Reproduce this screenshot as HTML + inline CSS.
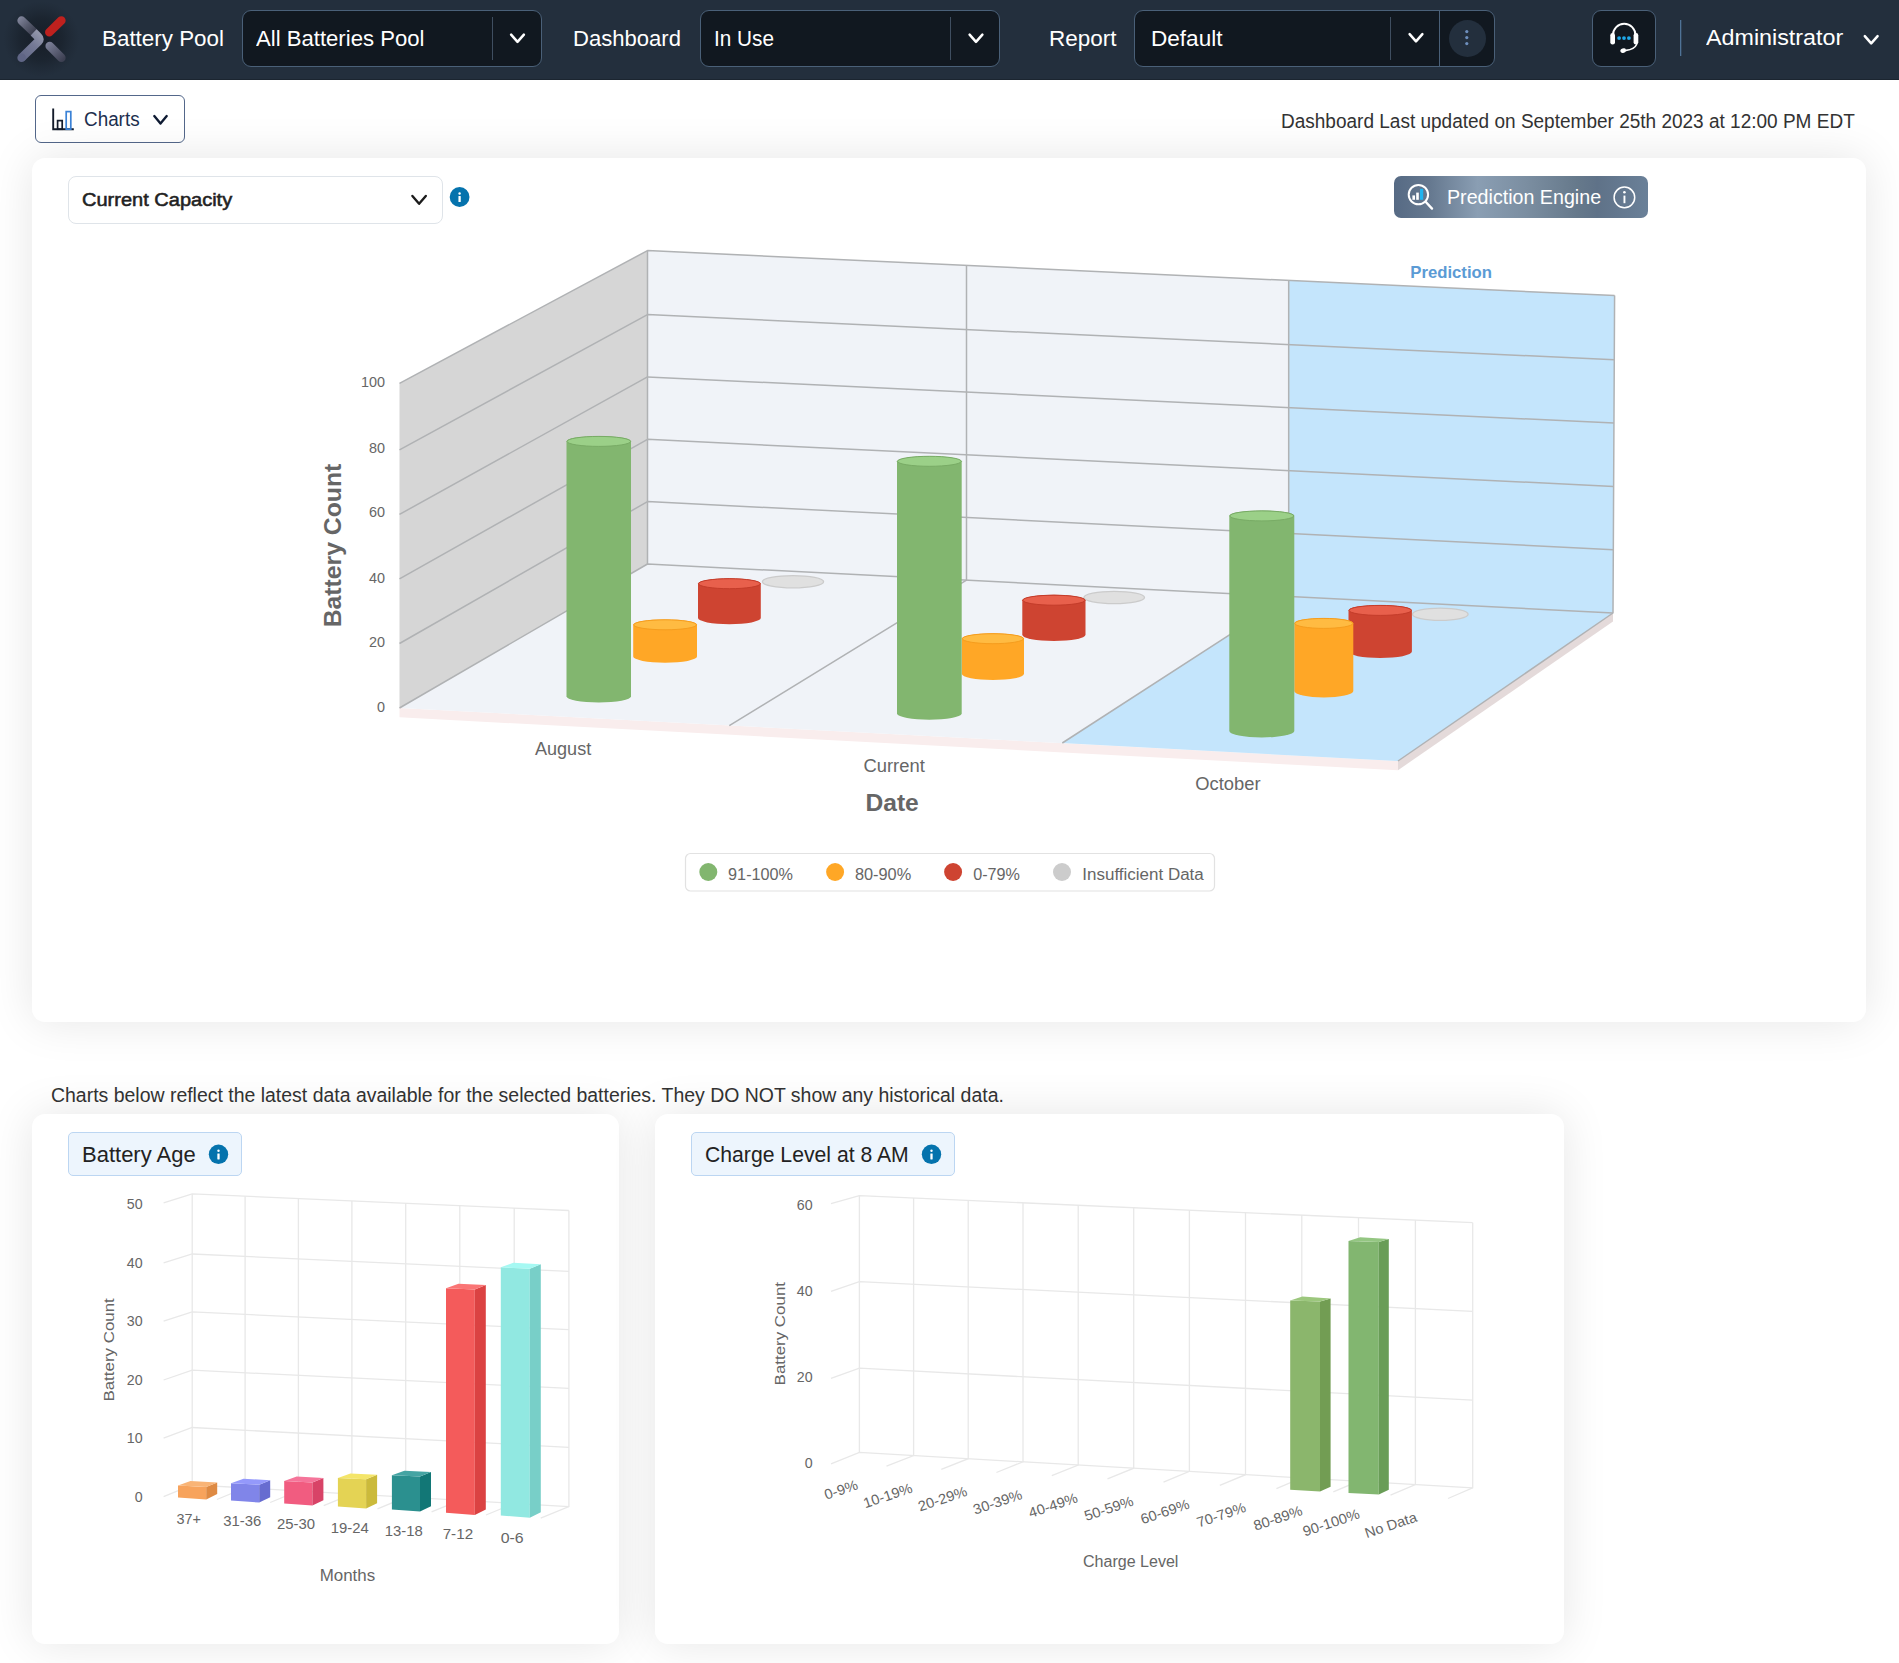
<!DOCTYPE html>
<html lang="en">
<head>
<meta charset="utf-8">
<title>Battery Dashboard</title>
<style>
*{box-sizing:border-box}
html,body{margin:0;padding:0}
body{width:1899px;height:1663px;position:relative;overflow:hidden;background:#fff;font-family:"Liberation Sans",sans-serif;color:#333}
.t{position:absolute;white-space:nowrap;line-height:1em;transform-origin:0 0;display:block}
.sb{-webkit-text-stroke:.55px #222}
.abs{position:absolute}
header{position:absolute;left:0;top:0;width:1899px;height:80px;background:#232f3d;border-bottom:1px solid #1b2530}
.dd{position:absolute;top:10px;height:57px;background:#111820;border:1px solid #4a6078;border-radius:9px}
.vd{position:absolute;top:6px;width:1px;height:43px;background:#3f4e60}
.card{position:absolute;background:#fff;border-radius:13px;box-shadow:0 0 46px rgba(0,0,0,.1)}
.badge{position:absolute;background:#edf5fd;border:1px solid #bcd6f2;border-radius:5px}
svg{position:absolute;left:0;top:0;overflow:visible}
svg text{font-family:"Liberation Sans",sans-serif}
</style>
</head>
<body>

<header>
<svg width="90" height="80" viewBox="0 0 90 80">
<defs>
<linearGradient id="lg0" gradientUnits="userSpaceOnUse" x1="19" y1="18" x2="38" y2="36"><stop offset="0" stop-color="#80849a"/><stop offset=".45" stop-color="#565a6c"/><stop offset=".8" stop-color="#3c3f50"/><stop offset="1" stop-color="#3a3d4e"/></linearGradient>
<linearGradient id="lg1" gradientUnits="userSpaceOnUse" x1="19" y1="60" x2="42" y2="34"><stop offset="0" stop-color="#5f6585"/><stop offset=".6" stop-color="#747995"/><stop offset="1" stop-color="#9599ad"/></linearGradient>
<linearGradient id="lg2" gradientUnits="userSpaceOnUse" x1="47" y1="43" x2="63" y2="60"><stop offset="0" stop-color="#7d8199"/><stop offset="1" stop-color="#3d4052"/></linearGradient>
<radialGradient id="lgs" cx=".5" cy=".5" r=".5"><stop offset="0" stop-color="#161c26" stop-opacity=".95"/><stop offset=".55" stop-color="#18202a" stop-opacity=".7"/><stop offset="1" stop-color="#1b242f" stop-opacity="0"/></radialGradient>
</defs>
<circle cx="41.5" cy="39" r="38" fill="url(#lgs)"/>
<path d="M21.6 20.6 L36.6 34.8" fill="none" stroke="url(#lg0)" stroke-width="8.5" stroke-linecap="round"/>
<path d="M21.6 57.7 L38.4 41.4 Q40.6 39.2 38.4 37.1 L33.6 32.4" fill="none" stroke="url(#lg1)" stroke-width="8.5" stroke-linecap="butt" stroke-linejoin="round"/>
<circle cx="21.6" cy="57.7" r="4.25" fill="#5f6585"/>
<path d="M49.7 45.9 L61.4 57.7" fill="none" stroke="url(#lg2)" stroke-width="8.5" stroke-linecap="round"/>
<path d="M49.3 32.3 L61.4 20.4" fill="none" stroke="#bf211e" stroke-width="8.5" stroke-linecap="round"/>
</svg>
<span class="t " style="left:102.0px;top:28.4px;font-size:22.2px;color:#fff;transform:scaleX(1.0089)">Battery Pool</span>
<div class="dd" style="left:242px;width:300px"><div class="vd" style="left:249px"></div></div>
<span class="t " style="left:255.5px;top:28.4px;font-size:22.2px;color:#fff;transform:scaleX(0.9968)">All Batteries Pool</span>
<svg width="1899" height="1663" style="pointer-events:none"><path d="M511.1 34.6 L517.5 41.8 L523.9 34.6" fill="none" stroke="#fff" stroke-width="2.5" stroke-linecap="round" stroke-linejoin="round"/></svg>
<span class="t " style="left:572.5px;top:28.4px;font-size:22.2px;color:#fff;transform:scaleX(0.9945)">Dashboard</span>
<div class="dd" style="left:700px;width:300px"><div class="vd" style="left:249px"></div></div>
<span class="t " style="left:713.5px;top:28.4px;font-size:22.2px;color:#fff;transform:scaleX(0.9352)">In Use</span>
<svg width="1899" height="1663" style="pointer-events:none"><path d="M969.6 34.6 L976.0 41.8 L982.4 34.6" fill="none" stroke="#fff" stroke-width="2.5" stroke-linecap="round" stroke-linejoin="round"/></svg>
<span class="t " style="left:1048.5px;top:28.4px;font-size:22.2px;color:#fff;transform:scaleX(1.0131)">Report</span>
<div class="dd" style="left:1134px;width:361px"><div class="vd" style="left:255px"></div><div class="abs" style="left:304px;top:0;width:1px;height:55px;background:#4a6078"></div><div class="abs" style="left:314px;top:9px;width:37px;height:37px;border-radius:50%;background:#232f3d"></div></div>
<span class="t " style="left:1151.0px;top:27.6px;font-size:22.2px;color:#fff;transform:scaleX(1.0166)">Default</span>
<svg width="1899" height="1663" style="pointer-events:none"><path d="M1409.6 34.2 L1416.0 41.4 L1422.4 34.2" fill="none" stroke="#fff" stroke-width="2.5" stroke-linecap="round" stroke-linejoin="round"/></svg>
<svg width="1899" height="80"><g fill="#6e8fbd"><circle cx="1466.8" cy="31.6" r="1.6"/><circle cx="1466.8" cy="37.6" r="1.6"/><circle cx="1466.8" cy="43.6" r="1.6"/></g></svg>
<div class="dd" style="left:1592px;width:64px"></div>
<svg width="1899" height="80">
<g fill="none" stroke="#fff" stroke-linecap="round">
<path d="M1612.9 36 V35.4 A11.3 11.6 0 0 1 1635.5 35.4 V36" stroke-width="1.9"/>
<path d="M1636.6 44.5 Q1634.5 49.3 1626 50.4" stroke-width="1.6"/>
</g>
<rect x="1610.3" y="33" width="4.7" height="11.6" rx="2.3" fill="#fff"/>
<rect x="1633.6" y="33" width="4.7" height="11.6" rx="2.3" fill="#fff"/>
<ellipse cx="1623.2" cy="50.6" rx="2.9" ry="2.2" fill="#fff" transform="rotate(-18 1623.2 50.6)"/>
<g fill="#1fa9ea"><circle cx="1619.1" cy="38.1" r="1.9"/><circle cx="1624" cy="38.1" r="1.9"/><circle cx="1628.9" cy="38.1" r="1.9"/></g>
<rect x="1680" y="20" width="1.3" height="36" fill="#4f7397"/>
</svg>
<span class="t " style="left:1705.7px;top:27.0px;font-size:22.2px;color:#fff;transform:scaleX(1.0500)">Administrator</span>
<svg width="1899" height="1663" style="pointer-events:none"><path d="M1864.8 36.2 L1871.2 43.4 L1877.6 36.2" fill="none" stroke="#fff" stroke-width="2.5" stroke-linecap="round" stroke-linejoin="round"/></svg>
</header>
<div class="abs" style="left:35px;top:95px;width:150px;height:48px;border:1px solid #53678a;border-radius:6px;background:#fff"></div>
<svg width="1899" height="160">
<path d="M53.2 108.6 V129.2 H73.8" fill="none" stroke="#141c2b" stroke-width="1.9"/>
<rect x="57.6" y="120.6" width="4.6" height="8.6" fill="none" stroke="#141c2b" stroke-width="1.7"/>
<rect x="66.2" y="111.6" width="4.6" height="17.6" fill="none" stroke="#3b82d6" stroke-width="1.7"/>
</svg>
<span class="t " style="left:83.7px;top:110.0px;font-size:19.6px;color:#1d2f4f;transform:scaleX(0.9632)">Charts</span>
<svg width="1899" height="1663" style="pointer-events:none"><path d="M154.3 116.1 L160.5 123.5 L166.7 116.1" fill="none" stroke="#0f1b33" stroke-width="2.4" stroke-linecap="round" stroke-linejoin="round"/></svg>
<span class="t " style="left:1281.0px;top:111.6px;font-size:19.4px;color:#333;transform:scaleX(0.9802)">Dashboard Last updated on September 25th 2023 at 12:00 PM EDT</span>
<div class="card" style="left:32px;top:158px;width:1834px;height:864px"></div>
<div class="abs" style="left:68px;top:176px;width:375px;height:48px;border:1px solid #dfe4e9;border-radius:8px;background:#fff"></div>
<span class="t sb" style="left:82.0px;top:190.5px;font-size:18.8px;color:#222;transform:scaleX(1.0656)">Current Capacity</span>
<svg width="1899" height="1663" style="pointer-events:none"><path d="M412.4 196.0 L419.1 203.8 L425.8 196.0" fill="none" stroke="#1c1c1c" stroke-width="2.4" stroke-linecap="round" stroke-linejoin="round"/></svg>
<svg width="1899" height="1663"><circle cx="459.6" cy="197" r="9.9" fill="#0573ad"/><rect x="458.45" y="196.1" width="2.3" height="6.0" rx=".4" fill="#fff"/><circle cx="459.6" cy="193.5" r="1.2" fill="#fff"/></svg>
<div class="abs" style="left:1394px;top:176px;width:254px;height:42px;border-radius:7px;background:linear-gradient(90deg,#566a84 0%,#65788f 14%,#8a9eb3 33%,#7b8ea1 52%,#66798b 72%,#5f7288 80%,#6a8098 100%)"></div>
<svg width="1899" height="260">
<g fill="none" stroke="#fff" stroke-linecap="round">
<circle cx="1418.4" cy="194.6" r="9.7" stroke-width="2"/>
<path d="M1425.6 201.8 L1432 208.6" stroke-width="2.4"/>
<circle cx="1624.4" cy="197.4" r="10.3" stroke-width="1.5"/>
</g>
<rect x="1412.4" y="195.4" width="2.6" height="4.4" fill="#fff"/>
<rect x="1416.2" y="192.6" width="2.6" height="7.2" fill="#fff"/>
<rect x="1420" y="188.8" width="3.2" height="11" fill="#1fb4f0"/>
<rect x="1623.5" y="195.6" width="1.9" height="7.6" fill="#fff"/>
<circle cx="1624.4" cy="192.2" r="1.3" fill="#fff"/>
</svg>
<span class="t " style="left:1446.7px;top:188.0px;font-size:19.6px;color:#fff;transform:scaleX(1.0031)">Prediction Engine</span>
<svg width="1899" height="1663"><polygon points="399.5,708.0 1398.0,761.0 1398.0,770.2 399.5,717.3" fill="#f9eded"/>
<polygon points="1613.0,613.0 1613.0,621.6 1398.0,770.2 1398.0,761.0" fill="#e4dada"/>
<polygon points="647.5,564.0 1613.0,613.0 1398.0,761.0 399.5,708.0" fill="#f0f3f8"/>
<polygon points="1288.7,596.5 1613.0,613.0 1398.0,761.0 1062.3,743.0" fill="#c4e5fc"/>
<polygon points="647.5,250.6 1614.6,295.6 1613.0,613.0 647.5,564.0" fill="#f0f3f8"/>
<polygon points="1288.7,280.4 1614.6,295.6 1613.0,613.0 1288.7,596.5" fill="#c4e5fc"/>
<polygon points="399.5,383.3 647.5,250.6 647.5,564.0 399.5,708.0" fill="#d6d6d6"/>
<g fill="none" stroke="#b0b2b4" stroke-width="1.5" stroke-linejoin="round">
<polyline points="399.5,383.3 647.5,250.6 1614.6,295.6"/>
<polyline points="399.5,449.8 647.5,314.6 1614.3,359.8"/>
<polyline points="399.5,514.4 647.5,376.9 1614.0,423.1"/>
<polyline points="399.5,578.9 647.5,439.3 1613.6,486.4"/>
<polyline points="399.5,643.5 647.5,501.6 1613.3,549.7"/>
<polyline points="399.5,708.0 647.5,564.0 1613.0,613.0"/>
<polyline points="647.5,250.6 647.5,564.0"/>
<polyline points="1614.6,295.6 1613.0,613.0 1398.0,761.0"/>
<polyline points="966.5,265.4 966.5,580.2 729.3,725.6"/>
<polyline points="1288.7,280.4 1288.7,596.5 1062.3,743.0"/>
</g>
<ellipse cx="793" cy="581.7" rx="30.6" ry="6.1" fill="#e0e0e0" stroke="#cbcbcb" stroke-width="1.3"/>
<path d="M698.0 583.7 A31.4 5.4 0 0 1 760.8 583.7 L760.8 617.9 A31.4 6.4 0 0 1 698.0 617.9 Z" fill="#ce4431"/>
<ellipse cx="729.4" cy="583.7" rx="30.9" ry="5.0" fill="#e8604c" stroke="#c43c2a" stroke-width="1"/>
<path d="M633.2 624.8 A31.9 5.4 0 0 1 697.0 624.8 L697.0 656.4 A31.9 6.4 0 0 1 633.2 656.4 Z" fill="#ffa726"/>
<ellipse cx="665.1" cy="624.8" rx="31.4" ry="5.0" fill="#ffbb42" stroke="#f59d1e" stroke-width="1"/>
<path d="M566.5 441.4 A32.2 5.4 0 0 1 631.0 441.4 L631.0 696.2 A32.2 6.4 0 0 1 566.5 696.2 Z" fill="#82b66f"/>
<ellipse cx="598.8" cy="441.4" rx="31.8" ry="5.0" fill="#9bd088" stroke="#78ab65" stroke-width="1"/>
<ellipse cx="1114.2" cy="597.5" rx="30.3" ry="6.1" fill="#e0e0e0" stroke="#cbcbcb" stroke-width="1.3"/>
<path d="M1022.3 600.2 A31.6 5.4 0 0 1 1085.5 600.2 L1085.5 634.7 A31.6 6.4 0 0 1 1022.3 634.7 Z" fill="#ce4431"/>
<ellipse cx="1053.9" cy="600.2" rx="31.1" ry="5.0" fill="#e8604c" stroke="#c43c2a" stroke-width="1"/>
<path d="M961.8 638.7 A31.1 5.4 0 0 1 1024.0 638.7 L1024.0 673.7 A31.1 6.4 0 0 1 961.8 673.7 Z" fill="#ffa726"/>
<ellipse cx="992.9" cy="638.7" rx="30.6" ry="5.0" fill="#ffbb42" stroke="#f59d1e" stroke-width="1"/>
<path d="M897.0 461.3 A32.4 5.4 0 0 1 961.7 461.3 L961.7 713.7 A32.4 6.4 0 0 1 897.0 713.7 Z" fill="#82b66f"/>
<ellipse cx="929.4" cy="461.3" rx="31.9" ry="5.0" fill="#9bd088" stroke="#78ab65" stroke-width="1"/>
<ellipse cx="1440.3" cy="614.3" rx="27.8" ry="6.1" fill="#e0e0e0" stroke="#cbcbcb" stroke-width="1.3"/>
<path d="M1348.5 610.4 A31.7 5.4 0 0 1 1411.9 610.4 L1411.9 651.6 A31.7 6.4 0 0 1 1348.5 651.6 Z" fill="#ce4431"/>
<ellipse cx="1380.2" cy="610.4" rx="31.2" ry="5.0" fill="#e8604c" stroke="#c43c2a" stroke-width="1"/>
<path d="M1294.3 623.4 A29.5 5.4 0 0 1 1353.3 623.4 L1353.3 691.0 A29.5 6.4 0 0 1 1294.3 691.0 Z" fill="#ffa726"/>
<ellipse cx="1323.8" cy="623.4" rx="29.0" ry="5.0" fill="#ffbb42" stroke="#f59d1e" stroke-width="1"/>
<path d="M1229.3 515.9 A32.5 5.4 0 0 1 1294.3 515.9 L1294.3 731.0 A32.5 6.4 0 0 1 1229.3 731.0 Z" fill="#82b66f"/>
<ellipse cx="1261.8" cy="515.9" rx="32.0" ry="5.0" fill="#9bd088" stroke="#78ab65" stroke-width="1"/>
<text x="385.0" y="387.3" font-size="14.2" fill="#666" text-anchor="end" textLength="24.0" lengthAdjust="spacingAndGlyphs">100</text>
<text x="385.0" y="452.5" font-size="14.2" fill="#666" text-anchor="end" textLength="16.0" lengthAdjust="spacingAndGlyphs">80</text>
<text x="385.0" y="517.1" font-size="14.2" fill="#666" text-anchor="end" textLength="16.0" lengthAdjust="spacingAndGlyphs">60</text>
<text x="385.0" y="582.8" font-size="14.2" fill="#666" text-anchor="end" textLength="16.0" lengthAdjust="spacingAndGlyphs">40</text>
<text x="385.0" y="646.9" font-size="14.2" fill="#666" text-anchor="end" textLength="16.0" lengthAdjust="spacingAndGlyphs">20</text>
<text x="385.0" y="711.9" font-size="14.2" fill="#666" text-anchor="end" textLength="8.0" lengthAdjust="spacingAndGlyphs">0</text>
<text x="535.0" y="754.8" font-size="17.6" fill="#666" textLength="56.2" lengthAdjust="spacingAndGlyphs">August</text>
<text x="863.5" y="772.0" font-size="17.6" fill="#666" textLength="61.3" lengthAdjust="spacingAndGlyphs">Current</text>
<text x="1195.3" y="789.6" font-size="17.6" fill="#666" textLength="65.3" lengthAdjust="spacingAndGlyphs">October</text>
<text x="865.5" y="810.7" font-size="24.2" fill="#666" textLength="53.3" lengthAdjust="spacingAndGlyphs" font-weight="700">Date</text>
<text x="341.4" y="627.3" font-size="24.2" fill="#666" textLength="163.6" lengthAdjust="spacingAndGlyphs" font-weight="700" transform="rotate(-90 341.4 627.3)">Battery Count</text>
<text x="1410.3" y="277.9" font-size="16.4" fill="#5b9bd5" textLength="81.7" lengthAdjust="spacingAndGlyphs" font-weight="700">Prediction</text>
<rect x="685.5" y="853.5" width="529" height="37.5" rx="5" fill="#fff" stroke="#e2e2e2" stroke-width="1.2"/>
<circle cx="708.3" cy="872" r="9" fill="#82b66f"/>
<circle cx="835.1" cy="872" r="9" fill="#ffa726"/>
<circle cx="953.1" cy="872" r="9" fill="#ce4431"/>
<circle cx="1062" cy="872" r="9" fill="#cccccc"/>
<text x="728.1" y="880.2" font-size="15.8" fill="#666" textLength="64.9" lengthAdjust="spacingAndGlyphs">91-100%</text>
<text x="854.9" y="880.2" font-size="15.8" fill="#666" textLength="56.3" lengthAdjust="spacingAndGlyphs">80-90%</text>
<text x="973.2" y="880.2" font-size="15.8" fill="#666" textLength="46.8" lengthAdjust="spacingAndGlyphs">0-79%</text>
<text x="1082.3" y="880.2" font-size="15.8" fill="#666" textLength="121.5" lengthAdjust="spacingAndGlyphs">Insufficient Data</text></svg>
<span class="t " style="left:50.6px;top:1085.9px;font-size:19.6px;color:#333;transform:scaleX(0.9927)">Charts below reflect the latest data available for the selected batteries. They DO NOT show any historical data.</span>
<div class="card" style="left:32px;top:1114px;width:587px;height:530px"></div>
<div class="card" style="left:655px;top:1114px;width:909px;height:530px"></div>
<div class="badge" style="left:68px;top:1132px;width:174px;height:44px"></div>
<div class="badge" style="left:691px;top:1132px;width:264px;height:44px"></div>
<span class="t " style="left:81.6px;top:1143.6px;font-size:22.2px;color:#222;transform:scaleX(0.9916)">Battery Age</span>
<span class="t " style="left:704.6px;top:1143.6px;font-size:22.2px;color:#222;transform:scaleX(0.9547)">Charge Level at 8 AM</span>
<svg width="1899" height="1663"><circle cx="218.5" cy="1154.3" r="9.7" fill="#0573ad"/><rect x="217.35" y="1153.4" width="2.3" height="6.0" rx=".4" fill="#fff"/><circle cx="218.5" cy="1150.8" r="1.2" fill="#fff"/></svg>
<svg width="1899" height="1663"><circle cx="931.5" cy="1154.3" r="9.7" fill="#0573ad"/><rect x="930.35" y="1153.4" width="2.3" height="6.0" rx=".4" fill="#fff"/><circle cx="931.5" cy="1150.8" r="1.2" fill="#fff"/></svg>
<svg width="1899" height="1663"><g fill="none" stroke="#e8e8e8" stroke-width="1.3">
<polyline points="163.6,1202.9 192.2,1193.9 568.9,1210.5"/>
<polyline points="163.6,1262.8 192.2,1254.0 568.9,1271.4"/>
<polyline points="163.6,1321.1 192.2,1311.9 568.9,1329.7"/>
<polyline points="163.6,1380.0 192.2,1370.2 568.9,1388.4"/>
<polyline points="163.6,1438.1 192.2,1427.5 568.9,1447.3"/>
<polyline points="163.6,1496.6 192.2,1484.8 568.9,1506.6"/>
<polyline points="192.2,1193.9 192.2,1484.8"/>
<polyline points="245.1,1196.2 245.1,1487.9 216.9,1499.5"/>
<polyline points="298.4,1198.6 298.4,1490.9 270.2,1502.5"/>
<polyline points="351.9,1200.9 351.9,1494.0 323.7,1505.6"/>
<polyline points="405.7,1203.3 405.7,1497.2 377.5,1508.8"/>
<polyline points="459.8,1205.7 459.8,1500.3 431.6,1511.9"/>
<polyline points="514.2,1208.1 514.2,1503.4 486.0,1515.0"/>
<polyline points="568.9,1210.5 568.9,1506.6 540.7,1518.2"/>
</g>
<polygon points="178.0,1485.6 206.2,1487.0 206.2,1499.4 178.0,1497.4" fill="#f7a35c"/>
<polygon points="206.2,1487.0 217.2,1482.5 217.2,1494.0 206.2,1499.4" fill="#de8a43"/>
<polygon points="178.0,1485.6 190.5,1481.1 217.2,1482.5 206.2,1487.0" fill="#f9b476"/>
<polygon points="231.0,1483.3 259.2,1484.7 259.2,1502.6 231.0,1500.6" fill="#8085e9"/>
<polygon points="259.2,1484.7 270.2,1480.2 270.2,1497.2 259.2,1502.6" fill="#676cd0"/>
<polygon points="231.0,1483.3 243.5,1478.8 270.2,1480.2 259.2,1484.7" fill="#9499fb"/>
<polygon points="284.2,1481.1 312.4,1482.5 312.4,1505.6 284.2,1503.6" fill="#f15c80"/>
<polygon points="312.4,1482.5 323.4,1478.0 323.4,1500.2 312.4,1505.6" fill="#d84367"/>
<polygon points="284.2,1481.1 296.7,1476.6 323.4,1478.0 312.4,1482.5" fill="#f5759a"/>
<polygon points="337.9,1477.9 366.1,1479.3 366.1,1508.6 337.9,1506.6" fill="#e4d354"/>
<polygon points="366.1,1479.3 377.1,1474.8 377.1,1503.2 366.1,1508.6" fill="#cbba3b"/>
<polygon points="337.9,1477.9 350.4,1473.4 377.1,1474.8 366.1,1479.3" fill="#f4e569"/>
<polygon points="391.9,1475.2 420.0,1476.6 420.0,1511.6 391.9,1509.6" fill="#2b908f"/>
<polygon points="420.0,1476.6 431.0,1472.1 431.0,1506.2 420.0,1511.6" fill="#127776"/>
<polygon points="391.9,1475.2 404.4,1470.7 431.0,1472.1 420.0,1476.6" fill="#45a4a3"/>
<polygon points="446.0,1288.2 474.8,1289.6 474.8,1514.9 446.0,1512.8" fill="#f45b5b"/>
<polygon points="474.8,1289.6 485.8,1285.1 485.8,1509.5 474.8,1514.9" fill="#db4242"/>
<polygon points="446.0,1288.2 458.5,1283.7 485.8,1285.1 474.8,1289.6" fill="#fa7575"/>
<polygon points="500.8,1267.3 529.8,1268.7 529.8,1517.7 500.8,1515.6" fill="#91e8e1"/>
<polygon points="529.8,1268.7 540.8,1264.2 540.8,1512.3 529.8,1517.7" fill="#78cfc8"/>
<polygon points="500.8,1267.3 513.3,1262.8 540.8,1264.2 529.8,1268.7" fill="#a6f9f3"/>
<text x="142.6" y="1209.3" font-size="14.2" fill="#666" text-anchor="end" textLength="15.8" lengthAdjust="spacingAndGlyphs">50</text>
<text x="142.6" y="1267.7" font-size="14.2" fill="#666" text-anchor="end" textLength="15.8" lengthAdjust="spacingAndGlyphs">40</text>
<text x="142.6" y="1326.1" font-size="14.2" fill="#666" text-anchor="end" textLength="15.8" lengthAdjust="spacingAndGlyphs">30</text>
<text x="142.6" y="1384.7" font-size="14.2" fill="#666" text-anchor="end" textLength="15.8" lengthAdjust="spacingAndGlyphs">20</text>
<text x="142.6" y="1443.1" font-size="14.2" fill="#666" text-anchor="end" textLength="15.8" lengthAdjust="spacingAndGlyphs">10</text>
<text x="142.6" y="1502.0" font-size="14.2" fill="#666" text-anchor="end" textLength="7.9" lengthAdjust="spacingAndGlyphs">0</text>
<text x="188.8" y="1523.7" font-size="14.2" fill="#666" text-anchor="middle" textLength="24.5" lengthAdjust="spacingAndGlyphs">37+</text>
<text x="242.3" y="1526.3" font-size="14.2" fill="#666" text-anchor="middle" textLength="38.0" lengthAdjust="spacingAndGlyphs">31-36</text>
<text x="296.0" y="1529.4" font-size="14.2" fill="#666" text-anchor="middle" textLength="38.0" lengthAdjust="spacingAndGlyphs">25-30</text>
<text x="349.7" y="1532.7" font-size="14.2" fill="#666" text-anchor="middle" textLength="38.0" lengthAdjust="spacingAndGlyphs">19-24</text>
<text x="403.7" y="1535.9" font-size="14.2" fill="#666" text-anchor="middle" textLength="38.0" lengthAdjust="spacingAndGlyphs">13-18</text>
<text x="457.9" y="1539.1" font-size="14.2" fill="#666" text-anchor="middle" textLength="30.5" lengthAdjust="spacingAndGlyphs">7-12</text>
<text x="512.2" y="1543.1" font-size="14.2" fill="#666" text-anchor="middle" textLength="23.0" lengthAdjust="spacingAndGlyphs">0-6</text>
<text x="114.5" y="1401.6" font-size="15.4" fill="#666" textLength="103.4" lengthAdjust="spacingAndGlyphs" transform="rotate(-90 114.5 1401.6)">Battery Count</text>
<text x="347.4" y="1580.5" font-size="15.8" fill="#666" text-anchor="middle" textLength="55.5" lengthAdjust="spacingAndGlyphs">Months</text>
<g fill="none" stroke="#e8e8e8" stroke-width="1.3">
<polyline points="831.0,1203.6 859.4,1195.6 1472.7,1222.7"/>
<polyline points="831.0,1291.4 859.4,1281.6 1472.7,1311.3"/>
<polyline points="831.0,1378.3 859.4,1368.2 1472.7,1400.2"/>
<polyline points="831.0,1463.8 859.4,1452.4 1472.7,1487.8"/>
<polyline points="859.4,1195.6 859.4,1452.4"/>
<polyline points="913.6,1198.0 913.6,1455.5 886.5,1466.2"/>
<polyline points="968.2,1200.4 968.2,1458.7 941.3,1469.4"/>
<polyline points="1023.0,1202.8 1023.0,1461.8 996.4,1472.5"/>
<polyline points="1078.2,1205.3 1078.2,1465.0 1051.8,1475.7"/>
<polyline points="1133.7,1207.7 1133.7,1468.2 1107.5,1478.9"/>
<polyline points="1189.4,1210.2 1189.4,1471.4 1163.5,1482.1"/>
<polyline points="1245.5,1212.7 1245.5,1474.7 1219.8,1485.4"/>
<polyline points="1301.8,1215.1 1301.8,1477.9 1276.4,1488.6"/>
<polyline points="1358.5,1217.7 1358.5,1481.2 1333.3,1491.9"/>
<polyline points="1415.4,1220.2 1415.4,1484.5 1390.5,1495.2"/>
<polyline points="1472.7,1222.7 1472.7,1487.8 1448.0,1498.5"/>
</g>
<polygon points="1290.2,1300.5 1320.0,1301.6 1320.0,1491.6 1290.2,1489.7" fill="#8bb66c"/>
<polygon points="1320.0,1301.6 1330.6,1298.6 1330.6,1486.8 1320.0,1491.6" fill="#729d53"/>
<polygon points="1290.2,1300.5 1302.4,1296.6 1330.6,1298.6 1320.0,1301.6" fill="#9cc77d"/>
<polygon points="1348.5,1241.0 1378.8,1242.0 1378.8,1494.5 1348.5,1493.0" fill="#82b670"/>
<polygon points="1378.8,1242.0 1388.8,1239.1 1388.8,1489.7 1378.8,1494.5" fill="#699d57"/>
<polygon points="1348.5,1241.0 1360.1,1237.2 1388.8,1239.1 1378.8,1242.0" fill="#94c682"/>
<text x="812.6" y="1209.6" font-size="14.2" fill="#666" text-anchor="end" textLength="15.8" lengthAdjust="spacingAndGlyphs">60</text>
<text x="812.6" y="1295.9" font-size="14.2" fill="#666" text-anchor="end" textLength="15.8" lengthAdjust="spacingAndGlyphs">40</text>
<text x="812.6" y="1382.1" font-size="14.2" fill="#666" text-anchor="end" textLength="15.8" lengthAdjust="spacingAndGlyphs">20</text>
<text x="812.6" y="1467.7" font-size="14.2" fill="#666" text-anchor="end" textLength="7.9" lengthAdjust="spacingAndGlyphs">0</text>
<text x="858.9" y="1488.9" font-size="14.2" fill="#666" text-anchor="end" textLength="34.3" lengthAdjust="spacingAndGlyphs" transform="rotate(-18.5 858.9 1488.9)">0-9%</text>
<text x="913.4" y="1492.1" font-size="14.2" fill="#666" text-anchor="end" textLength="50.7" lengthAdjust="spacingAndGlyphs" transform="rotate(-18.5 913.4 1492.1)">10-19%</text>
<text x="968.1" y="1495.3" font-size="14.2" fill="#666" text-anchor="end" textLength="50.7" lengthAdjust="spacingAndGlyphs" transform="rotate(-18.5 968.1 1495.3)">20-29%</text>
<text x="1023.2" y="1498.6" font-size="14.2" fill="#666" text-anchor="end" textLength="50.7" lengthAdjust="spacingAndGlyphs" transform="rotate(-18.5 1023.2 1498.6)">30-39%</text>
<text x="1078.7" y="1501.8" font-size="14.2" fill="#666" text-anchor="end" textLength="50.7" lengthAdjust="spacingAndGlyphs" transform="rotate(-18.5 1078.7 1501.8)">40-49%</text>
<text x="1134.4" y="1505.0" font-size="14.2" fill="#666" text-anchor="end" textLength="50.7" lengthAdjust="spacingAndGlyphs" transform="rotate(-18.5 1134.4 1505.0)">50-59%</text>
<text x="1190.5" y="1508.2" font-size="14.2" fill="#666" text-anchor="end" textLength="50.7" lengthAdjust="spacingAndGlyphs" transform="rotate(-18.5 1190.5 1508.2)">60-69%</text>
<text x="1246.8" y="1511.4" font-size="14.2" fill="#666" text-anchor="end" textLength="50.7" lengthAdjust="spacingAndGlyphs" transform="rotate(-18.5 1246.8 1511.4)">70-79%</text>
<text x="1303.5" y="1514.7" font-size="14.2" fill="#666" text-anchor="end" textLength="50.7" lengthAdjust="spacingAndGlyphs" transform="rotate(-18.5 1303.5 1514.7)">80-89%</text>
<text x="1360.6" y="1517.9" font-size="14.2" fill="#666" text-anchor="end" textLength="58.8" lengthAdjust="spacingAndGlyphs" transform="rotate(-18.5 1360.6 1517.9)">90-100%</text>
<text x="1417.9" y="1521.1" font-size="14.2" fill="#666" text-anchor="end" textLength="53.9" lengthAdjust="spacingAndGlyphs" transform="rotate(-18.5 1417.9 1521.1)">No Data</text>
<text x="785.0" y="1385.4" font-size="15.4" fill="#666" textLength="103.4" lengthAdjust="spacingAndGlyphs" transform="rotate(-90 785.0 1385.4)">Battery Count</text>
<text x="1130.7" y="1566.6" font-size="15.8" fill="#666" text-anchor="middle" textLength="95.5" lengthAdjust="spacingAndGlyphs">Charge Level</text></svg>
</body>
</html>
